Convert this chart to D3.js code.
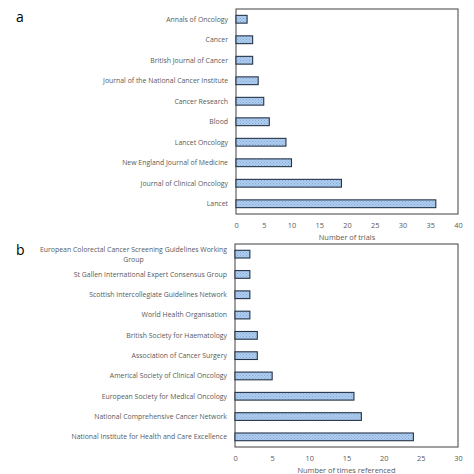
<!DOCTYPE html>
<html>
<head>
<meta charset="utf-8">
<script src="https://cdn.jsdelivr.net/npm/d3@7"></script>
<style>
	html, body { margin: 0; padding: 0; background: #fff; }
	svg text { font-family: "Open Sans", "Liberation Sans", sans-serif; }
</style>
</head>
<body>
<svg id="chart" width="474" height="474"></svg>
<script>
// panel a: journals
const journals = [
	'Annals of Oncology',
	'Cancer',
	'British Journal of Cancer',
	'Journal of the National Cancer Institute',
	'Cancer Research',
	'Blood',
	'Lancet Oncology',
	'New England Journal of Medicine',
	'Journal of Clinical Oncology',
	'Lancet',
];
const trials = [2, 3, 3, 4, 5, 6, 9, 10, 19, 36];
const trialTicks = [0, 5, 10, 15, 20, 25, 30, 35, 40];

// panel b: guideline bodies
const bodies = [
	['European Colorectal Cancer Screening Guidelines Working', 'Group'],
	['St Gallen International Expert Consensus Group'],
	['Scottish Intercollegiate Guidelines Network'],
	['World Health Organisation'],
	['British Society for Haematology'],
	['Association of Cancer Surgery'],
	['Americal Society of Clinical Oncology'],
	['European Society for Medical Oncology'],
	['National Comprehensive Cancer Network'],
	['National Institute for Health and Care Excellence'],
];
const references = [2, 2, 2, 2, 3, 3, 5, 16, 17, 24];
const refTicks = [0, 5, 10, 15, 20, 25, 30];

const svg = d3.select('#chart');
const textColor = '#595959';

// hatched fill like the original spreadsheet bars
const defs = svg.append('defs');
const pat = defs.append('pattern')
	.attr('id', 'hatch')
	.attr('patternUnits', 'userSpaceOnUse')
	.attr('width', 3)
	.attr('height', 3);
pat.append('rect').attr('width', 3).attr('height', 3).attr('fill', '#aecdf0');
pat.append('rect').attr('x', 0).attr('y', 0).attr('width', 1).attr('height', 1).attr('fill', '#86a9d4');
pat.append('rect').attr('x', 1.5).attr('y', 1.5).attr('width', 1).attr('height', 1).attr('fill', '#86a9d4');

function drawPanel(cfg) {
	const g = svg.append('g');

	const x = d3.scaleLinear().domain(cfg.domain).range([cfg.left, cfg.right]);
	const y = d3.scaleBand()
		.domain(d3.range(cfg.values.length))
		.range([cfg.top, cfg.bottom])
		.paddingInner(0.62)
		.paddingOuter(0.31);

	// frame
	g.append('rect')
		.attr('x', cfg.left)
		.attr('y', cfg.top)
		.attr('width', cfg.right - cfg.left)
		.attr('height', cfg.bottom - cfg.top)
		.attr('fill', 'none')
		.attr('stroke', '#404040')
		.attr('stroke-width', 1);

	g.selectAll('rect.bar')
		.data(cfg.values)
		.enter()
		.append('rect')
		.attr('class', 'bar')
		.attr('x', x(0))
		.attr('y', (d, i) => y(i))
		.attr('width', d => x(d) - x(0))
		.attr('height', y.bandwidth())
		.attr('fill', 'url(#hatch)')
		.attr('stroke', '#253447')
		.attr('stroke-width', 1.1);

	// category labels
	const lbl = g.selectAll('text.cat')
		.data(cfg.labels)
		.enter()
		.append('text')
		.attr('class', 'cat')
		.attr('font-size', 6.9)
		.attr('fill', textColor);

	lbl.each(function (d, i) {
		const t = d3.select(this);
		const lines = Array.isArray(d) ? d : [d];
		const cy = y(i) + y.bandwidth() / 2;
		if (lines.length === 1) {
			t.attr('x', cfg.left - 8)
				.attr('y', cy)
				.attr('dy', '0.35em')
				.attr('text-anchor', 'end')
				.text(lines[0]);
		} else {
			// wrapped label: lines centred on the first line
			const tmp = t.append('tspan').text(lines[0]);
			const w = tmp.node().getComputedTextLength();
			tmp.remove();
			const mid = cfg.left - 8 - w / 2;
			t.attr('text-anchor', 'middle');
			lines.forEach((ln, k) => {
				t.append('tspan')
					.attr('x', mid)
					.attr('y', cy + (k - (lines.length - 1) / 2) * 10)
					.attr('dy', '0.35em')
					.text(ln);
			});
		}
	});

	// x axis
	const axis = g.append('g')
		.attr('transform', `translate(0,${cfg.bottom})`)
		.call(d3.axisBottom(x).tickValues(cfg.ticks).tickSize(0).tickPadding(9));
	axis.select('.domain').remove();
	axis.selectAll('text')
		.attr('font-family', '"Open Sans", "Liberation Sans", sans-serif')
		.attr('font-size', 7.4)
		.attr('fill', textColor);

	g.append('text')
		.attr('x', (cfg.left + cfg.right) / 2)
		.attr('y', cfg.bottom + 26)
		.attr('text-anchor', 'middle')
		.attr('font-size', 7.4)
		.attr('fill', textColor)
		.text(cfg.title);

	g.append('text')
		.attr('x', 16)
		.attr('y', cfg.letterY)
		.attr('font-size', 14)
		.attr('fill', '#000')
		.text(cfg.letter);
}

drawPanel({
	labels: journals,
	values: trials,
	ticks: trialTicks,
	domain: [0, 40],
	left: 236, right: 458, top: 9, bottom: 214,
	title: 'Number of trials',
	letter: 'a', letterY: 22,
});

drawPanel({
	labels: bodies,
	values: references,
	ticks: refTicks,
	domain: [0, 30],
	left: 235, right: 458, top: 244, bottom: 447,
	title: 'Number of times referenced',
	letter: 'b', letterY: 255,
});
</script>
</body>
</html>
